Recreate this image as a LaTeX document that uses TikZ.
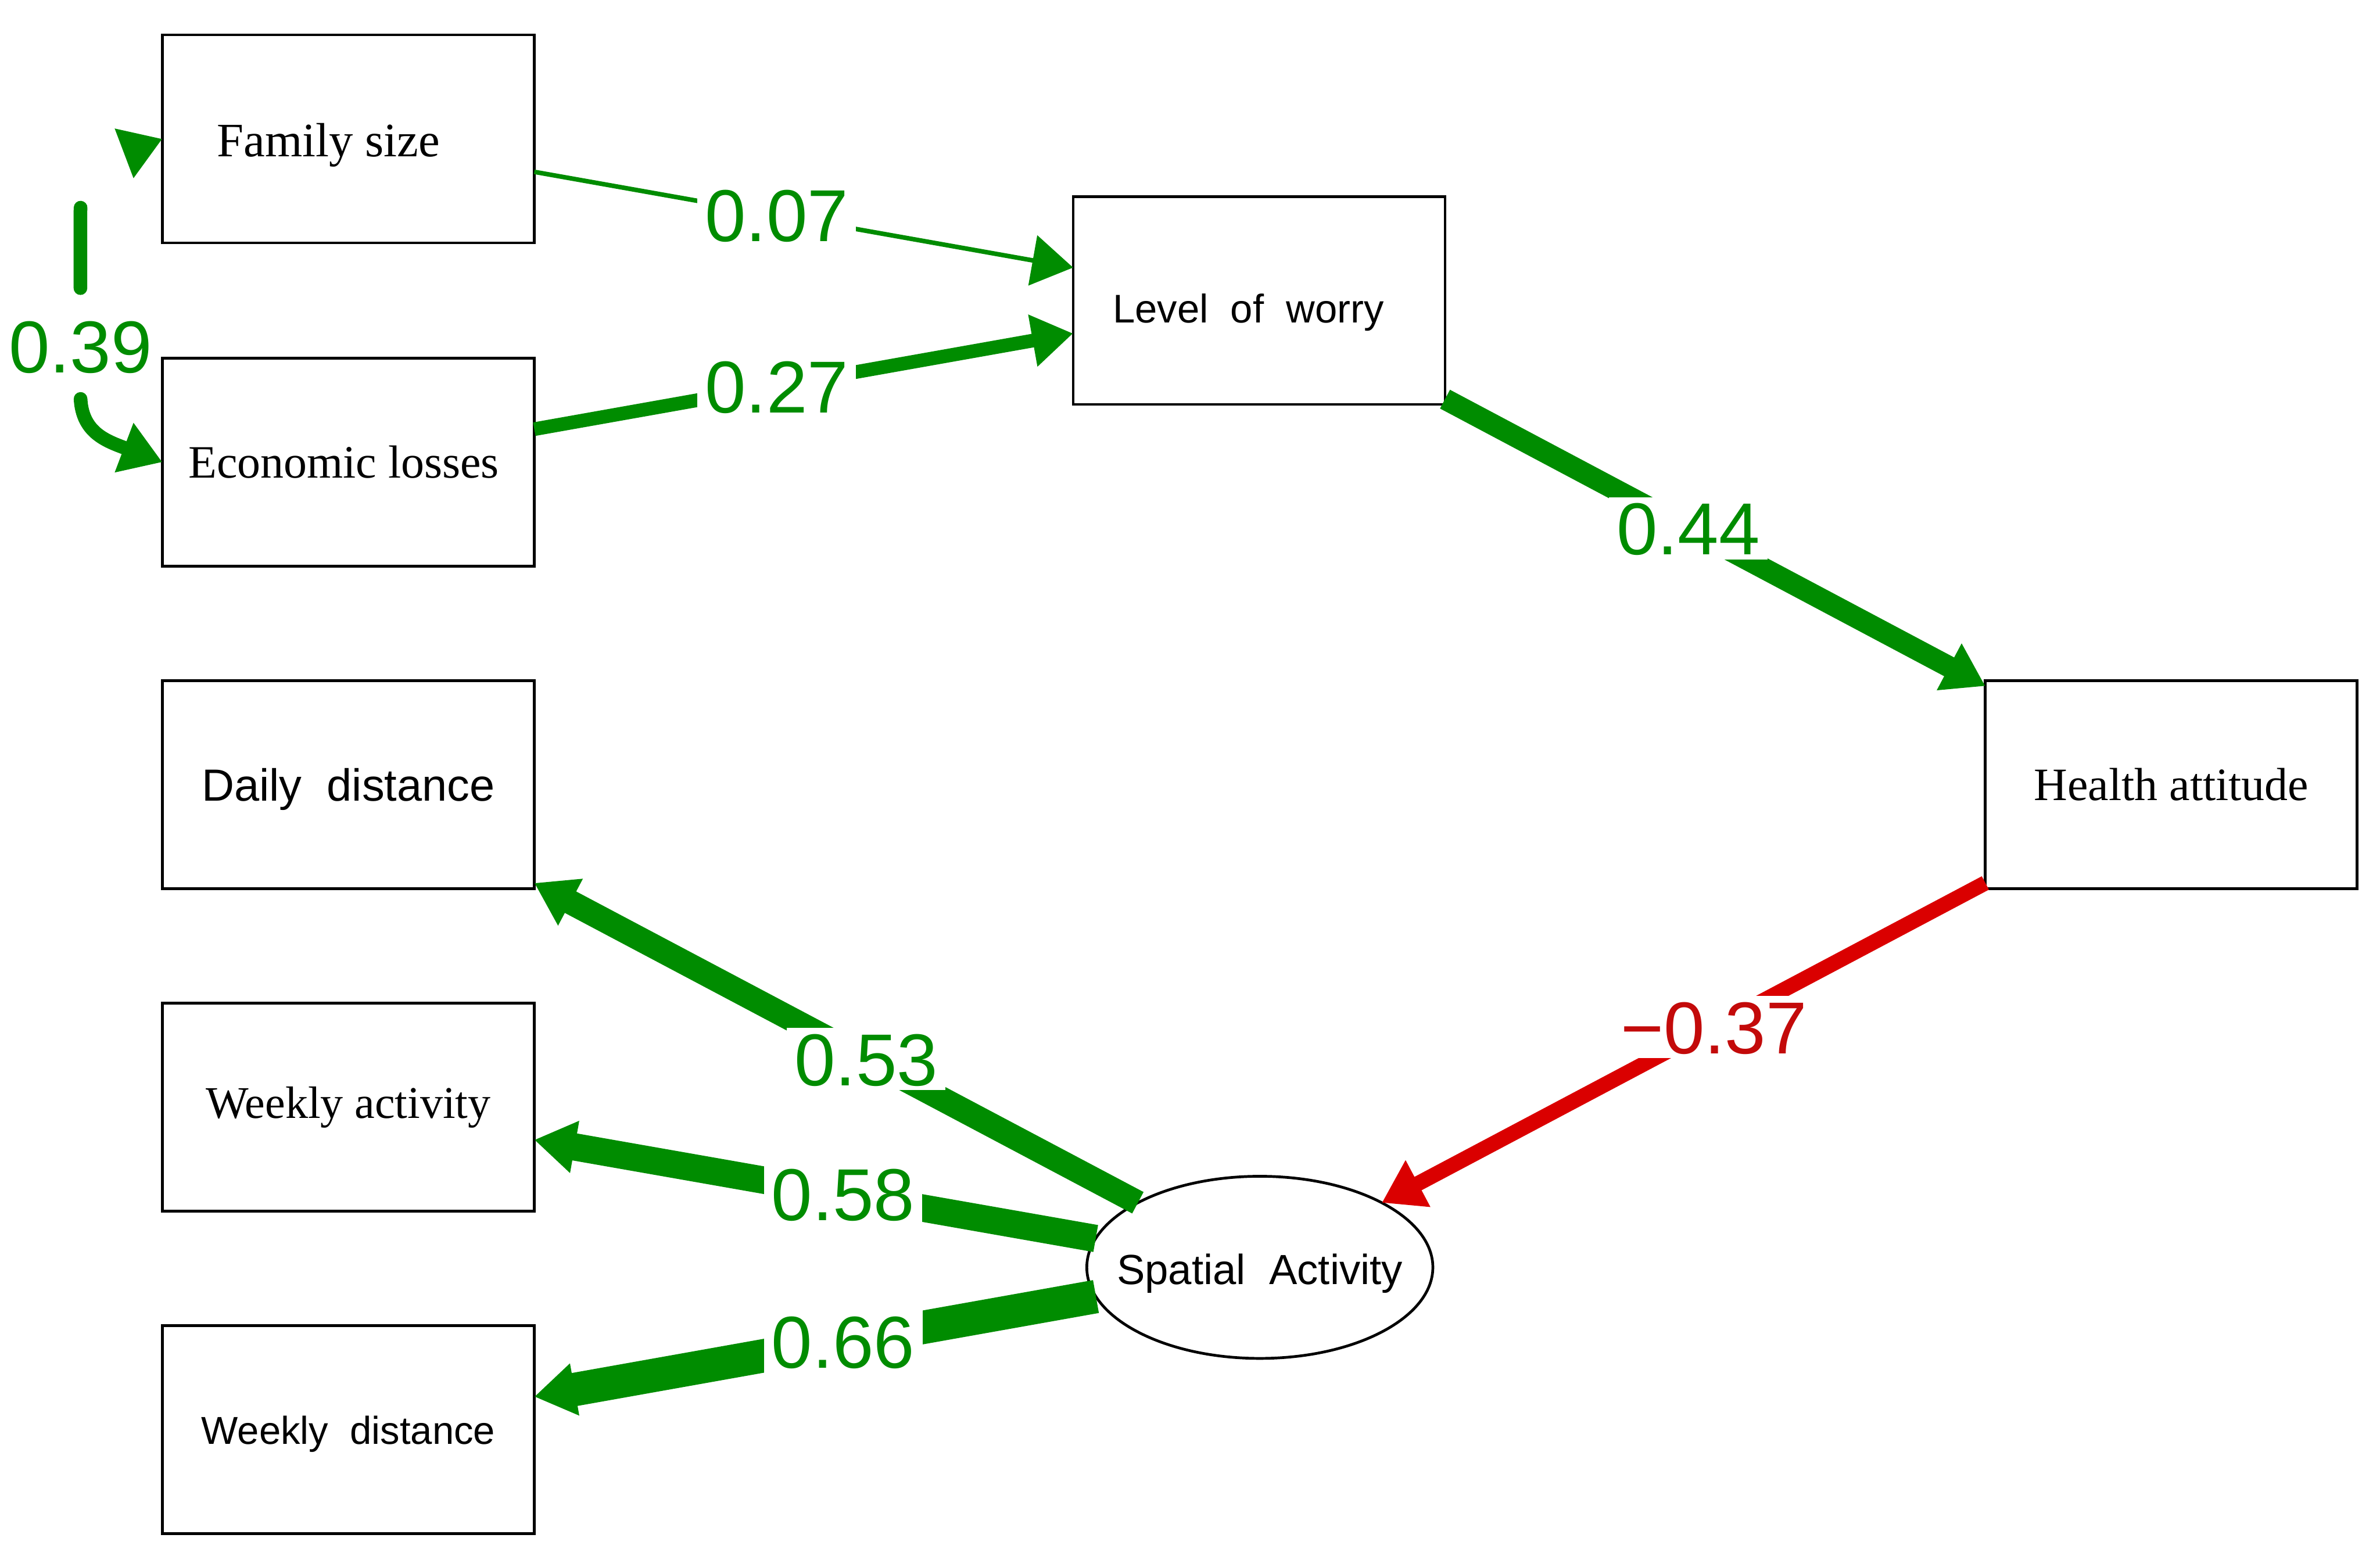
\documentclass[tikz,border=0pt]{standalone}
\usepackage{fontspec}
\setmainfont{Liberation Serif}
\newfontfamily\arial{Liberation Sans}
\usetikzlibrary{arrows.meta,shapes.geometric}
\definecolor{pgreen}{RGB}{0,140,0}
\definecolor{pred}{RGB}{218,0,0}
\definecolor{predtxt}{RGB}{195,10,10}
\newcommand{\lowtext}[2]{\raisebox{-#1}[\height][\depth]{#2}}
\begin{document}
\begin{tikzpicture}[x=0.1mm,y=-0.1mm,
  box/.style={draw,line width=0.18mm,minimum width=24.5mm,minimum height=13.7mm,inner sep=0pt,outer sep=0pt},
  oval/.style={ellipse,draw,line width=0.18mm,minimum width=22.8mm,minimum height=12mm,inner sep=0pt,outer sep=0pt},
  pth/.style={-{Triangle[length=2.7mm,width=3.3mm]},draw=pgreen},
  lab/.style={font=\arial\fontsize{13.8}{14}\selectfont,fill=white,text=pgreen,inner xsep=0.5mm,inner ysep=0.3mm,text height=3.5mm,text depth=0pt,pos=0.45}]
\useasboundingbox (0,0) rectangle (1568,1025);
% nodes
\node[box,font=\fontsize{9}{10}\selectfont] (fam) at (229.5,91.5) {\lowtext{0.4mm}{Family size}\kern2.6mm};
\node[box,font=\fontsize{8.7}{10}\selectfont] (eco) at (229.5,304.5) {Economic losses\kern0.6mm};
\node[box,font=\arial\fontsize{7.5}{9}\selectfont] (lev) at (829.5,198) {\lowtext{0.8mm}{Level\ \ of\ \ worry}\kern1.4mm};
\node[box,font=\fontsize{8.7}{10}\selectfont] (hea) at (1430.5,517) {Health attitude};
\node[box,font=\arial\fontsize{8.45}{10}\selectfont] (dd) at (229.5,517) {\lowtext{0.3mm}{Daily\ \ distance}};
\node[box,font=\fontsize{8.5}{10}\selectfont] (wa) at (229.5,729.5) {Weekly activity};
\node[box,font=\arial\fontsize{7.3}{9}\selectfont] (wd) at (229.5,942) {\lowtext{0.3mm}{Weekly\ \ distance}};
\node[oval,font=\arial\fontsize{7.9}{9}\selectfont] (sp) at (830,835) {\makebox[0pt]{\lowtext{0.4mm}{Spatial\ \ Activity}}};
% paths
\draw[pth,line width=0.3mm] (fam) -- node[lab]{0.07} (lev);
\draw[pth,line width=0.9mm] (eco) -- node[lab]{0.27} (lev);
\draw[pth,line width=1.4mm] (lev) -- node[lab]{0.44} (hea);
\draw[pth,draw=pred,line width=1.0mm] (hea) -- node[lab,text=predtxt]{−0.37} (sp);
\draw[pth,line width=1.6mm] (sp) -- node[lab]{0.53} (dd);
\draw[pth,line width=1.8mm] (sp) -- node[lab]{0.58} (wa);
\draw[pth,line width=2.2mm] (sp) -- node[lab]{0.66} (wd);
% covariance
\coordinate (ca) at (53,140);
\coordinate (cb) at (53,260);
\draw[pgreen,line width=0.9mm,line cap=round,
  {Triangle[length=2.7mm,width=3.3mm]}-{Triangle[length=2.7mm,width=3.3mm]},
  dash pattern=on 5.3mm off 7.3mm,dash phase=7.55mm]
  (fam.west) .. controls +(-37,14) and +(0,-25) .. (ca)
  -- node[lab,pos=0.733]{0.39} (cb)
  .. controls +(0,25) and +(-37,-14) .. (eco.west);
\end{tikzpicture}
\end{document}
